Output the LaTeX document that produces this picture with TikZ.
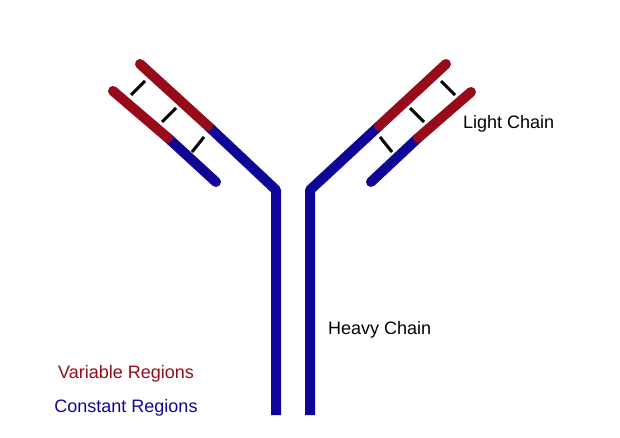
\documentclass[tikz,border=0pt]{standalone}
\usepackage{fontspec}
\setmainfont{Liberation Sans}
\definecolor{vred}{RGB}{150,10,25}
\definecolor{cblue}{RGB}{15,5,150}
\begin{document}
\begin{tikzpicture}[x=1pt,y=-1pt,
  chain/.style={line width=10pt,line cap=round,line join=round},
  rung/.style={line width=3pt,black},
  lbl/.style={font=\fontsize{18}{20}\selectfont,inner sep=0pt}]
\useasboundingbox (0,0) rectangle (620,438);
% left heavy
\coordinate (lh1) at (140,64); \coordinate (lh2) at (208,126);
\coordinate (lh3) at (276,190); \coordinate (lh4) at (276,415);
\draw[chain,cblue,line cap=butt] (lh2) -- (lh3) -- (lh4);
\draw[chain,vred] (lh1) -- (lh2);
% left light
\coordinate (ll1) at (113,91); \coordinate (ll2) at (168,138); \coordinate (ll3) at (216,182);
\draw[chain,cblue] (ll2) -- (ll3);
\draw[chain,vred] (ll1) -- (ll2);
% right heavy
\coordinate (rh1) at (446,64); \coordinate (rh2) at (379,126);
\coordinate (rh3) at (310,190); \coordinate (rh4) at (310,415);
\draw[chain,cblue,line cap=butt] (rh2) -- (rh3) -- (rh4);
\draw[chain,vred] (rh1) -- (rh2);
% right light
\coordinate (rl1) at (471,92); \coordinate (rl2) at (418,138); \coordinate (rl3) at (371,182);
\draw[chain,cblue] (rl2) -- (rl3);
\draw[chain,vred] (rl1) -- (rl2);
% rungs
\coordinate (a1) at (145,81); \coordinate (b1) at (131,95);
\coordinate (a2) at (176,108); \coordinate (b2) at (162,122);
\coordinate (a3) at (204,137); \coordinate (b3) at (192,152);
\draw[rung] (a1) -- (b1); \draw[rung] (a2) -- (b2); \draw[rung] (a3) -- (b3);
\coordinate (c1) at (441,81); \coordinate (d1) at (455,95);
\coordinate (c2) at (410,108); \coordinate (d2) at (424,122);
\coordinate (c3) at (380,137); \coordinate (d3) at (392,152);
\draw[rung] (c1) -- (d1); \draw[rung] (c2) -- (d2); \draw[rung] (c3) -- (d3);
% labels
\node[lbl,anchor=west] (lc) at (463,124) {Light Chain};
\node[lbl,anchor=west] (hc) at (328,330) {Heavy Chain};
\node[lbl,text=vred] (vr) at (126,374) {Variable Regions};
\node[lbl,text=cblue] (cr) at (126,408) {Constant Regions};
\end{tikzpicture}
\end{document}
